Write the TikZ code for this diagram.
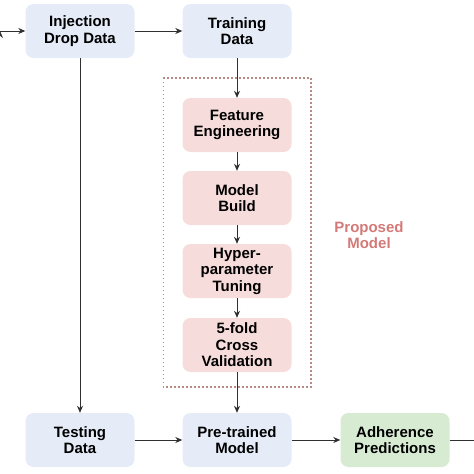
\documentclass[tikz,border=0pt]{standalone}
\usepackage{fontspec}
\setmainfont{Liberation Sans}
\usetikzlibrary{arrows.meta,positioning}

\definecolor{boxblue}{HTML}{E5ECF8}
\definecolor{boxred}{HTML}{F6DCDA}
\definecolor{boxgreen}{HTML}{D7EAD2}
\definecolor{dotline}{HTML}{B88A84}
\definecolor{propred}{HTML}{D37A78}
\definecolor{linegray}{HTML}{303030}

\begin{document}
\begin{tikzpicture}[x=1pt,y=1pt,node distance=157pt,on grid,
    every node/.style={font=\fontsize{15}{16.5}\selectfont\bfseries}]
  \tikzstyle{boxB}=[rectangle,rounded corners=8pt,fill=boxblue,minimum width=109pt,minimum height=54pt,align=center,inner sep=1pt]
  \tikzstyle{boxR}=[boxB,fill=boxred]
  \tikzstyle{boxG}=[boxB,fill=boxgreen]
  \tikzstyle{flow}=[draw=linegray,line width=1pt,-{Stealth[length=7pt,width=6pt]}]

  \useasboundingbox (0,0) rectangle (474,-474);

  % Top row
  \node[boxB] (inj)   at (80,-31)          {Injection\\Drop Data};
  \node[boxB] (train) [right=of inj]       {Training\\Data};

  % Proposed model steps
  \node[boxR] (fe)  [below=94pt of train]  {Feature\\Engineering};
  \node[boxR] (mb)  [below=73pt of fe]     {Model\\Build};
  \node[boxR] (hp)  [below=73pt of mb]     {Hyper-\\parameter\\Tuning};
  \node[boxR] (cv)  [below=74pt of hp]     {5-fold\\Cross\\Validation};

  % Bottom row
  \node[boxB] (pre)  [below=95pt of cv]    {Pre-trained\\Model};
  \node[boxB] (test) [left=of pre]         {Testing\\Data};
  \node[boxG] (adh)  [right=158pt of pre]  {Adherence\\Predictions};

  \draw[dotline,line width=1.6pt,dash pattern=on 1.6pt off 2.4pt]
    ([xshift=-19pt,yshift=20pt]fe.north west) rectangle ([xshift=19pt,yshift=-15pt]cv.south east);
  \node[align=center,text=propred] (prop) at (369,-235) {Proposed\\Model};

  \coordinate (src) at (0,-31);
  \coordinate (dst) at (474,-440);

  \path[flow] (src) edge (inj);
  \path[flow] (inj) edge (train);
  \path[flow] (inj) edge (test);
  \path[flow] (train) edge (fe);
  \path[flow] (fe) edge (mb);
  \path[flow] (mb) edge (hp);
  \path[flow] (hp) edge (cv);
  \path[flow] (cv) edge (pre);
  \path[flow] (test) edge (pre);
  \path[flow] (pre) edge (adh);
  \draw[draw=linegray,line width=1pt] (adh) -- (dst);
\end{tikzpicture}
\end{document}
